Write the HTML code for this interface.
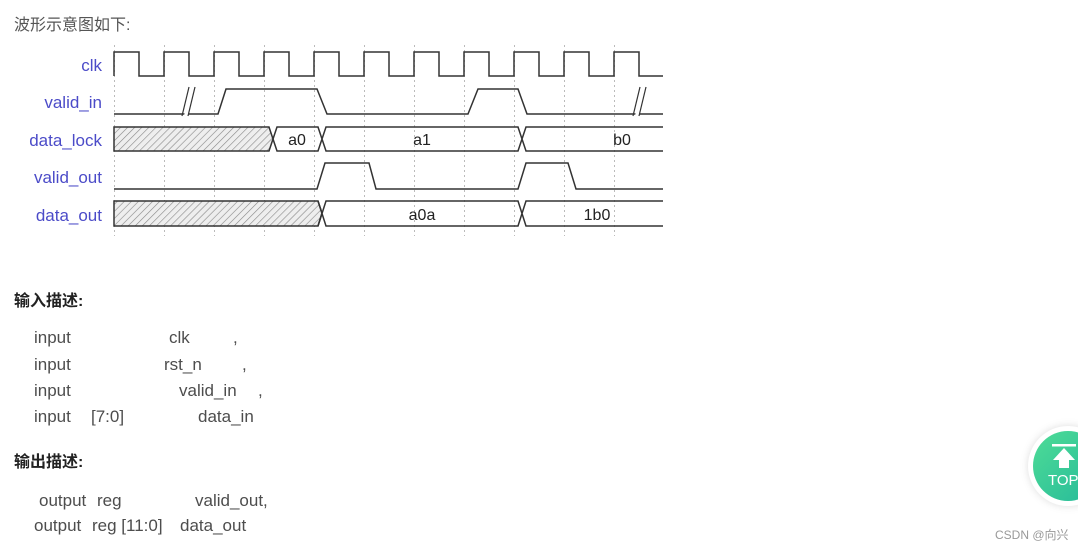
<!DOCTYPE html>
<html><head><meta charset="utf-8"><style>
body{margin:0;width:1078px;height:548px;background:#fff;position:relative;overflow:hidden;font-family:"Liberation Sans","Noto Sans CJK SC",sans-serif;}
.t{position:absolute;white-space:pre;color:#4d4d4d;font-size:17px;line-height:20px;}
.h{position:absolute;white-space:pre;color:#222;font-size:16px;font-weight:bold;line-height:20px;}
</style></head><body>
<div class="t" style="left:14px;top:16px;font-size:16px;color:#555">波形示意图如下:</div>
<svg width="1078" height="548" style="position:absolute;left:0;top:0">
<defs><pattern id="hp" patternUnits="userSpaceOnUse" width="5" height="5" patternTransform="rotate(45)"><rect width="5" height="5" fill="#eee"/><line x1="0" y1="0" x2="0" y2="5" stroke="#888" stroke-width="1.2"/></pattern></defs>
<g stroke="#bbb" stroke-dasharray="2,3" stroke-width="1">
<line x1="114.5" y1="45" x2="114.5" y2="236"/><line x1="164.5" y1="45" x2="164.5" y2="236"/><line x1="214.5" y1="45" x2="214.5" y2="236"/><line x1="264.5" y1="45" x2="264.5" y2="236"/><line x1="314.5" y1="45" x2="314.5" y2="236"/><line x1="364.5" y1="45" x2="364.5" y2="236"/><line x1="414.5" y1="45" x2="414.5" y2="236"/><line x1="464.5" y1="45" x2="464.5" y2="236"/><line x1="514.5" y1="45" x2="514.5" y2="236"/><line x1="564.5" y1="45" x2="564.5" y2="236"/><line x1="614.5" y1="45" x2="614.5" y2="236"/>
</g>
<g font-size="17" fill="#4b4bc8" text-anchor="end" font-family="Liberation Sans, sans-serif">
<text x="102" y="71">clk</text><text x="102" y="108">valid_in</text><text x="102" y="146">data_lock</text><text x="102" y="183">valid_out</text><text x="102" y="221">data_out</text>
</g>
<g fill="none" stroke="#333" stroke-width="1.5">
<path d="M114,76 L114,52 L139,52 L139,76 L164,76 L164,52 L189,52 L189,76 L214,76 L214,52 L239,52 L239,76 L264,76 L264,52 L289,52 L289,76 L314,76 L314,52 L339,52 L339,76 L364,76 L364,52 L389,52 L389,76 L414,76 L414,52 L439,52 L439,76 L464,76 L464,52 L489,52 L489,76 L514,76 L514,52 L539,52 L539,76 L564,76 L564,52 L589,52 L589,76 L614,76 L614,52 L639,52 L639,76 L663,76"/>
<path d="M114,114 L218,114 L226,89 L317,89 L327,114 L468,114 L478,89 L518,89 L527,114 L663,114"/>
<path d="M114,189 L317,189 L325,163 L369,163 L376,189 L518,189 L526,163 L568,163 L576,189 L663,189"/>
<path d="M114,127 L269,127 L273,139 L269,151 L114,151 Z" fill="url(#hp)"/>
<path d="M273,139 L277,127 L318,127 L326,151 L518,151 L526,127 L663,127 M273,139 L277,151 L318,151 L326,127 L518,127 L526,151 L663,151"/>
<path d="M114,201 L318,201 L322,213 L318,226 L114,226 Z" fill="url(#hp)"/>
<path d="M318,201 L326,226 L518,226 L526,201 L663,201 M318,226 L326,201 L518,201 L526,226 L663,226"/>
</g>
<g stroke="#fff" stroke-width="4"><line x1="186" y1="116" x2="193" y2="87"/><line x1="637" y1="116" x2="644" y2="87"/></g>
<g stroke="#333" stroke-width="1.2"><line x1="182" y1="116" x2="189" y2="87"/><line x1="188" y1="116" x2="195" y2="87"/><line x1="633" y1="116" x2="640" y2="87"/><line x1="639" y1="116" x2="646" y2="87"/></g>
<g font-size="16" fill="#222" text-anchor="middle" font-family="Liberation Sans, sans-serif">
<text x="297" y="145">a0</text><text x="422" y="145">a1</text><text x="622" y="145">b0</text><text x="422" y="220">a0a</text><text x="597" y="220">1b0</text>
</g>
<circle cx="1068" cy="466" r="40" fill="#fff" style="filter:drop-shadow(0 0 4px #ddd)"/>
<defs><linearGradient id="g" x1="0" y1="0" x2="1" y2="1"><stop offset="0" stop-color="#4edc96"/><stop offset="1" stop-color="#25b99a"/></linearGradient></defs>
<circle cx="1068" cy="466" r="35" fill="url(#g)"/>
<rect x="1052" y="444" width="24" height="2.5" fill="#fff"/>
<path d="M1064,448 L1053,460 L1059,460 L1059,468 L1069,468 L1069,460 L1075,460 Z" fill="#fff"/>
<text x="1048" y="485" font-size="15" fill="#fff" font-family="Liberation Sans, sans-serif">TOP</text>
</svg>
<div class="h" style="left:14px;top:292px">输入描述:</div>
<div class="t" style="left:34px;top:328px">input</div><div class="t" style="left:169px;top:328px">clk</div><div class="t" style="left:233px;top:328px">,</div>
<div class="t" style="left:34px;top:355px">input</div><div class="t" style="left:164px;top:355px">rst_n</div><div class="t" style="left:242px;top:355px">,</div>
<div class="t" style="left:34px;top:381px">input</div><div class="t" style="left:179px;top:381px">valid_in</div><div class="t" style="left:258px;top:381px">,</div>
<div class="t" style="left:34px;top:407px">input</div><div class="t" style="left:91px;top:407px">[7:0]</div><div class="t" style="left:198px;top:407px">data_in</div>
<div class="h" style="left:14px;top:453px">输出描述:</div>
<div class="t" style="left:39px;top:491px">output</div><div class="t" style="left:97px;top:491px">reg</div><div class="t" style="left:195px;top:491px">valid_out,</div>
<div class="t" style="left:34px;top:516px">output</div><div class="t" style="left:92px;top:516px">reg [11:0]</div><div class="t" style="left:180px;top:516px">data_out</div>
<div class="t" style="left:995px;top:525px;font-size:12px;color:#999">CSDN @向兴</div>
</body></html>
